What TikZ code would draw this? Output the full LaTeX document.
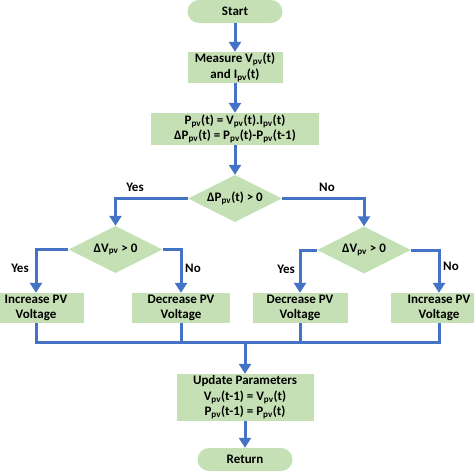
\documentclass[tikz,border=0pt]{standalone}
\usepackage{fontspec}
\setmainfont{Carlito}
\usetikzlibrary{shapes.geometric,arrows.meta}
\newcommand\pvs{\textsubscript{pv}}
\definecolor{boxgreen}{RGB}{197,224,180}
\definecolor{lineblue}{RGB}{68,114,196}
\begin{document}
\begin{tikzpicture}[x=1pt,y=-1pt,
  every node/.style={font=\bfseries\fontsize{13}{15.5}\selectfont, text=black},
  box/.style={fill=boxgreen, draw=none, align=center, inner sep=0pt},
  term/.style={fill=boxgreen, draw=none, rounded corners=11.5pt, inner sep=0pt, minimum height=23pt, minimum width=95pt},
  dec/.style={diamond, fill=boxgreen, draw=none, aspect=2, inner sep=0pt, minimum width=94pt, minimum height=47pt},
  flow/.style={draw=lineblue, line width=3pt, -{Triangle[width=12pt,length=10pt]}},
  link/.style={draw=lineblue, line width=3pt},
  lab/.style={inner sep=0pt}
]
\useasboundingbox (0,0) rectangle (474,474);

\node[term] (start) at (235,11.5) {Start};
\node[box, minimum width=95pt, minimum height=31pt] (meas) at (235,67.5) {Measure V\pvs(t)\\and I\pvs(t)};
\node[box, minimum width=168pt, minimum height=32pt] (calc) at (235,129) {P\pvs(t) = V\pvs(t).I\pvs(t)\\ΔP\pvs(t) = P\pvs(t)-P\pvs(t-1)};
\node[dec] (d1) at (235,198.5) {ΔP\pvs(t) > 0};
\node[dec] (d2) at (115.5,249.5) {ΔV\pvs{} > 0};
\node[dec] (d3) at (364,250) {ΔV\pvs{} > 0};

\node[box, minimum width=96pt, minimum height=30pt] (b1) at (36,308) {Increase PV\\Voltage};
\node[box, minimum width=98pt, minimum height=30pt] (b2) at (181,308) {Decrease PV\\Voltage};
\node[box, minimum width=95pt, minimum height=30pt] (b3) at (300,308) {Decrease PV\\Voltage};
\node[box, minimum width=96pt, minimum height=30pt] (b4) at (439,308) {Increase PV\\Voltage};

\coordinate (bus) at (245,342);
\node[box, minimum width=137pt, minimum height=47pt] (upd) at (245,397.5) {Update Parameters\\V\pvs(t-1) = V\pvs(t)\\P\pvs(t-1) = P\pvs(t)};
\node[term] (ret) at (245,459.5) {Return};

\draw[flow] (start) -- (meas);
\draw[flow] (meas) -- (calc);
\draw[flow] (calc) -- (d1);
\draw[flow] (d1.west) -| (d2.north);
\draw[flow] (d1.east) -| (d3.north);
\draw[flow] (d2.west) -| (b1.north);
\draw[flow] (d2.east) -| (b2.north);
\draw[flow] (d3.west) -| (b3.north);
\draw[flow] (d3.east) -| (b4.north);

\draw[link] (b1.south) -- (b1.south |- bus) -- (b4.south |- bus) -- (b4.south);
\draw[link] (b2.south) -- (b2.south |- bus);
\draw[link] (b3.south) -- (b3.south |- bus);
\draw[flow] (bus) -- (upd.north);
\draw[flow] (upd) -- (ret);

\node[lab] (y1) at (135,187) {Yes};
\node[lab] (n1) at (327,187) {No};
\node[lab] (y2) at (20,268) {Yes};
\node[lab] (n2) at (193,268) {No};
\node[lab] (y3) at (286,269) {Yes};
\node[lab] (n3) at (451,266) {No};
\end{tikzpicture}
\end{document}
